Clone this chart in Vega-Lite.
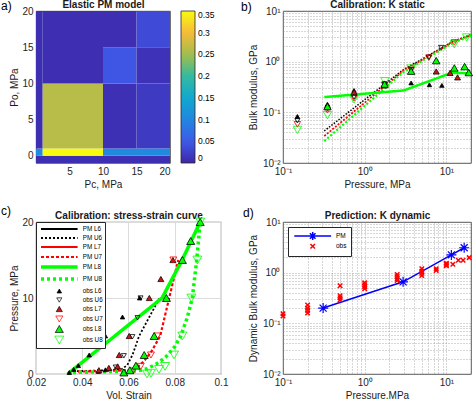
{
  "$schema": "https://vega.github.io/schema/vega-lite/v6.json",
  "padding": {"left": 0, "top": -2, "right": 0, "bottom": 0},
  "background": "white",
  "datasets": {
    "heat": [
      {"x0": 0, "x1": 20, "y0": -1, "y1": 0, "v": 0.008},
      {"x0": 0, "x1": 1, "y0": 0, "y1": 1, "v": 0.105},
      {"x0": 1, "x1": 10, "y0": 0, "y1": 1, "v": 0.35},
      {"x0": 10, "x1": 20, "y0": 0, "y1": 1, "v": 0.105},
      {"x0": 0, "x1": 1, "y0": 1, "y1": 20, "v": 0.008},
      {"x0": 1, "x1": 10, "y0": 1, "y1": 10, "v": 0.262},
      {"x0": 10, "x1": 15, "y0": 1, "y1": 10, "v": 0.01},
      {"x0": 15, "x1": 20, "y0": 1, "y1": 10, "v": 0.02},
      {"x0": 1, "x1": 10, "y0": 10, "y1": 20, "v": 0.008},
      {"x0": 10, "x1": 15, "y0": 10, "y1": 15, "v": 0.045},
      {"x0": 15, "x1": 20, "y0": 10, "y1": 15, "v": 0.012},
      {"x0": 10, "x1": 15, "y0": 15, "y1": 20, "v": 0.008},
      {"x0": 15, "x1": 20, "y0": 15, "y1": 20, "v": 0.035}
    ],
    "bLines": [
      {"series": "PM U6", "P": 0.32, "K": 0.043, "i": 0},
      {"series": "PM U6", "P": 3.0, "K": 0.7, "i": 1},
      {"series": "PM U6", "P": 12, "K": 2.5, "i": 2},
      {"series": "PM U6", "P": 20, "K": 3.4, "i": 3},
      {"series": "PM U7", "P": 0.32, "K": 0.034, "i": 0},
      {"series": "PM U7", "P": 3.0, "K": 0.67, "i": 1},
      {"series": "PM U7", "P": 12, "K": 2.45, "i": 2},
      {"series": "PM U7", "P": 20, "K": 3.35, "i": 3},
      {"series": "PM U8", "P": 0.32, "K": 0.027, "i": 0},
      {"series": "PM U8", "P": 3.0, "K": 0.63, "i": 1},
      {"series": "PM U8", "P": 12, "K": 2.35, "i": 2},
      {"series": "PM U8", "P": 20, "K": 3.25, "i": 3},
      {"series": "PM L8", "P": 0.32, "K": 0.2, "i": 0},
      {"series": "PM L8", "P": 3.0, "K": 0.27, "i": 1},
      {"series": "PM L8", "P": 11.5, "K": 0.6, "i": 2},
      {"series": "PM L8", "P": 20, "K": 0.59, "i": 3}
    ],
    "bObs": [
      {"series": "obs U8", "P": 0.15, "K": 0.045},
      {"series": "obs U8", "P": 0.35, "K": 0.088},
      {"series": "obs U8", "P": 0.74, "K": 0.18},
      {"series": "obs U8", "P": 1.77, "K": 0.41},
      {"series": "obs U8", "P": 3.7, "K": 0.73},
      {"series": "obs U8", "P": 12.5, "K": 2.2},
      {"series": "obs U8", "P": 17.7, "K": 3.0},
      {"series": "obs U7", "P": 0.15, "K": 0.058},
      {"series": "obs U7", "P": 0.35, "K": 0.11},
      {"series": "obs U7", "P": 0.74, "K": 0.19},
      {"series": "obs U7", "P": 1.75, "K": 0.35},
      {"series": "obs U7", "P": 3.7, "K": 0.68},
      {"series": "obs U7", "P": 6.1, "K": 1.2},
      {"series": "obs U7", "P": 12.5, "K": 2.4},
      {"series": "obs U6", "P": 0.15, "K": 0.068},
      {"series": "obs U6", "P": 0.35, "K": 0.12},
      {"series": "obs U6", "P": 0.74, "K": 0.2},
      {"series": "obs U6", "P": 1.75, "K": 0.36},
      {"series": "obs U6", "P": 3.7, "K": 0.7},
      {"series": "obs U6", "P": 6.1, "K": 1.22},
      {"series": "obs U6", "P": 8.6, "K": 1.9},
      {"series": "obs L6", "P": 0.15, "K": 0.083},
      {"series": "obs L6", "P": 0.35, "K": 0.145},
      {"series": "obs L6", "P": 0.74, "K": 0.27},
      {"series": "obs L6", "P": 1.75, "K": 0.34},
      {"series": "obs L6", "P": 3.7, "K": 0.38},
      {"series": "obs L6", "P": 6.2, "K": 0.35},
      {"series": "obs L6", "P": 8.8, "K": 0.34},
      {"series": "obs L7", "P": 0.35, "K": 0.13},
      {"series": "obs L7", "P": 0.74, "K": 0.25},
      {"series": "obs L7", "P": 1.75, "K": 0.34},
      {"series": "obs L7", "P": 7.5, "K": 0.64},
      {"series": "obs L7", "P": 11.1, "K": 0.6},
      {"series": "obs L7", "P": 13.7, "K": 0.49},
      {"series": "obs L8", "P": 0.35, "K": 0.13},
      {"series": "obs L8", "P": 1.75, "K": 0.36},
      {"series": "obs L8", "P": 3.7, "K": 0.65},
      {"series": "obs L8", "P": 7.5, "K": 1.05},
      {"series": "obs L8", "P": 12.5, "K": 0.75},
      {"series": "obs L8", "P": 16.7, "K": 0.8},
      {"series": "obs L8", "P": 18.8, "K": 0.61}
    ],
    "cLines": [
      {"series": "PM U6", "s": 0.036, "p": 0.35, "i": 0},
      {"series": "PM U6", "s": 0.05, "p": 0.5, "i": 1},
      {"series": "PM U6", "s": 0.057, "p": 0.6, "i": 2},
      {"series": "PM U6", "s": 0.0595, "p": 1.2, "i": 3},
      {"series": "PM U6", "s": 0.0617, "p": 2.5, "i": 4},
      {"series": "PM U6", "s": 0.0646, "p": 5, "i": 5},
      {"series": "PM U6", "s": 0.069, "p": 7.5, "i": 6},
      {"series": "PM U6", "s": 0.0735, "p": 10, "i": 7},
      {"series": "PM U7", "s": 0.036, "p": 0.3, "i": 0},
      {"series": "PM U7", "s": 0.05, "p": 0.4, "i": 1},
      {"series": "PM U7", "s": 0.06, "p": 0.5, "i": 2},
      {"series": "PM U7", "s": 0.064, "p": 0.9, "i": 3},
      {"series": "PM U7", "s": 0.067, "p": 1.8, "i": 4},
      {"series": "PM U7", "s": 0.07, "p": 3, "i": 5},
      {"series": "PM U7", "s": 0.0737, "p": 5, "i": 6},
      {"series": "PM U7", "s": 0.0776, "p": 10, "i": 7},
      {"series": "PM U7", "s": 0.0815, "p": 15, "i": 8},
      {"series": "PM U8", "s": 0.036, "p": 0.2, "i": 0},
      {"series": "PM U8", "s": 0.05, "p": 0.3, "i": 1},
      {"series": "PM U8", "s": 0.064, "p": 0.4, "i": 2},
      {"series": "PM U8", "s": 0.068, "p": 0.7, "i": 3},
      {"series": "PM U8", "s": 0.072, "p": 1.3, "i": 4},
      {"series": "PM U8", "s": 0.076, "p": 2.2, "i": 5},
      {"series": "PM U8", "s": 0.08, "p": 3.6, "i": 6},
      {"series": "PM U8", "s": 0.0826, "p": 5, "i": 7},
      {"series": "PM U8", "s": 0.0855, "p": 7.5, "i": 8},
      {"series": "PM U8", "s": 0.0876, "p": 10, "i": 9},
      {"series": "PM U8", "s": 0.0895, "p": 15, "i": 10},
      {"series": "PM U8", "s": 0.091, "p": 20, "i": 11},
      {"series": "PM L8", "s": 0.0337, "p": 0, "i": 0},
      {"series": "PM L8", "s": 0.0745, "p": 10, "i": 1},
      {"series": "PM L8", "s": 0.0832, "p": 15, "i": 2},
      {"series": "PM L8", "s": 0.091, "p": 20, "i": 3}
    ],
    "cObs": [
      {"series": "obs L6", "s": 0.0344, "p": 0.2},
      {"series": "obs L6", "s": 0.0363, "p": 0.6},
      {"series": "obs L6", "s": 0.0383, "p": 1.1},
      {"series": "obs L6", "s": 0.043, "p": 2.5},
      {"series": "obs L6", "s": 0.05, "p": 5},
      {"series": "obs L6", "s": 0.0574, "p": 7.5},
      {"series": "obs L6", "s": 0.0648, "p": 10},
      {"series": "obs L6", "s": 0.047, "p": 0.35},
      {"series": "obs L6", "s": 0.05, "p": 0.55},
      {"series": "obs U6", "s": 0.0545, "p": 0.9},
      {"series": "obs U6", "s": 0.058, "p": 2.4},
      {"series": "obs U6", "s": 0.0617, "p": 4.9},
      {"series": "obs U6", "s": 0.0639, "p": 7.4},
      {"series": "obs U6", "s": 0.0652, "p": 10},
      {"series": "obs L7", "s": 0.0472, "p": 0.5},
      {"series": "obs L7", "s": 0.0515, "p": 0.8},
      {"series": "obs L7", "s": 0.0553, "p": 1.0},
      {"series": "obs L7", "s": 0.056, "p": 2.5},
      {"series": "obs L7", "s": 0.0603, "p": 5},
      {"series": "obs L7", "s": 0.069, "p": 10},
      {"series": "obs L7", "s": 0.074, "p": 12.5},
      {"series": "obs L7", "s": 0.0792, "p": 15},
      {"series": "obs U7", "s": 0.062, "p": 0.4},
      {"series": "obs U7", "s": 0.0653, "p": 1},
      {"series": "obs U7", "s": 0.0697, "p": 2.5},
      {"series": "obs U7", "s": 0.0725, "p": 5},
      {"series": "obs U7", "s": 0.0794, "p": 15},
      {"series": "obs L8", "s": 0.058, "p": 0.2},
      {"series": "obs L8", "s": 0.0606, "p": 0.5},
      {"series": "obs L8", "s": 0.0632, "p": 1.1},
      {"series": "obs L8", "s": 0.0668, "p": 2.5},
      {"series": "obs L8", "s": 0.0711, "p": 5},
      {"series": "obs L8", "s": 0.0764, "p": 10},
      {"series": "obs L8", "s": 0.0833, "p": 15},
      {"series": "obs L8", "s": 0.0869, "p": 17.5},
      {"series": "obs L8", "s": 0.091, "p": 20},
      {"series": "obs U8", "s": 0.068, "p": 0},
      {"series": "obs U8", "s": 0.0697, "p": 0.1},
      {"series": "obs U8", "s": 0.0732, "p": 0.6},
      {"series": "obs U8", "s": 0.0758, "p": 1},
      {"series": "obs U8", "s": 0.0797, "p": 2.5},
      {"series": "obs U8", "s": 0.0833, "p": 5},
      {"series": "obs U8", "s": 0.0872, "p": 10},
      {"series": "obs U8", "s": 0.0898, "p": 15},
      {"series": "obs U8", "s": 0.091, "p": 20}
    ],
    "dPM": [
      {"series": "PM", "P": 0.31, "K": 0.2},
      {"series": "PM", "P": 2.95, "K": 0.66},
      {"series": "PM", "P": 11.5, "K": 2.24},
      {"series": "PM", "P": 16.5, "K": 3.1}
    ],
    "dObs": [
      {"series": "obs", "P": 0.1, "K": 0.14},
      {"series": "obs", "P": 0.1, "K": 0.155},
      {"series": "obs", "P": 0.2, "K": 0.16},
      {"series": "obs", "P": 0.2, "K": 0.18},
      {"series": "obs", "P": 0.2, "K": 0.2},
      {"series": "obs", "P": 0.2, "K": 0.23},
      {"series": "obs", "P": 0.5, "K": 0.29},
      {"series": "obs", "P": 0.5, "K": 0.32},
      {"series": "obs", "P": 0.5, "K": 0.35},
      {"series": "obs", "P": 0.5, "K": 0.55},
      {"series": "obs", "P": 1, "K": 0.48},
      {"series": "obs", "P": 1, "K": 0.53},
      {"series": "obs", "P": 1, "K": 0.58},
      {"series": "obs", "P": 1, "K": 0.63},
      {"series": "obs", "P": 2.5, "K": 0.7},
      {"series": "obs", "P": 2.5, "K": 0.76},
      {"series": "obs", "P": 2.5, "K": 0.84},
      {"series": "obs", "P": 2.5, "K": 0.92},
      {"series": "obs", "P": 5, "K": 0.88},
      {"series": "obs", "P": 5, "K": 0.97},
      {"series": "obs", "P": 5, "K": 1.07},
      {"series": "obs", "P": 5, "K": 1.2},
      {"series": "obs", "P": 7.5, "K": 1.1},
      {"series": "obs", "P": 7.5, "K": 1.2},
      {"series": "obs", "P": 10, "K": 1.37},
      {"series": "obs", "P": 10, "K": 1.45},
      {"series": "obs", "P": 10, "K": 1.54},
      {"series": "obs", "P": 12, "K": 1.47},
      {"series": "obs", "P": 14, "K": 1.76},
      {"series": "obs", "P": 16, "K": 1.76},
      {"series": "obs", "P": 19, "K": 1.98}
    ]
  },
  "concat": [
    {
      "width": 134, "height": 152,
      "title": {"text": "a)", "dx": -35, "offset": -14},
      "data": {"name": "heat"},
      "layer": [
        {
          "mark": {"type": "rect"},
          "encoding": {
            "x": {"field": "x0", "type": "quantitative", "scale": {"domain": [0, 20], "nice": false, "zero": false}, "axis": {"values": [5, 10, 15, 20], "title": "Pc, MPa", "titlePadding": 3}},
            "x2": {"field": "x1"},
            "y": {"field": "y0", "type": "quantitative", "scale": {"domain": [-1, 20], "nice": false, "zero": false}, "axis": {"values": [0, 5, 10, 15, 20], "title": "Po, MPa", "titlePadding": 2}},
            "y2": {"field": "y1"},
            "color": {"field": "v", "type": "quantitative", "title": null,
              "scale": {"domain": [0, 0.05, 0.1, 0.15, 0.2, 0.25, 0.3, 0.35], "range": ["#3e26a8", "#3f5ae9", "#2286e0", "#0fa9cf", "#35b9a0", "#a3be4c", "#f5bb3a", "#f9fb0e"], "interpolate": "rgb"},
              "legend": {"orient": "right", "offset": 11, "direction": "vertical", "gradientLength": 152, "gradientThickness": 14, "values": [0, 0.05, 0.1, 0.15, 0.2, 0.25, 0.3, 0.35], "format": ".2~f", "labelFontSize": 8.5, "labelOverlap": false, "gradientStrokeColor": "#262626", "gradientStrokeWidth": 0.8, "labelOffset": 3, "padding": 0}}
          }
        },
        {
          "mark": {"type": "rule", "opacity": 0},
          "encoding": {"x": {"field": "x0", "type": "quantitative", "axis": {"orient": "top", "labels": false, "grid": false, "title": "Elastic PM model", "titleFontWeight": "bold", "titlePadding": 2}}}
        }
      ],
      "resolve": {"axis": {"x": "independent"}}
    },
    {
      "width": 188, "height": 152,
      "title": {"text": "b)", "dx": -42, "offset": -15},
      "layer": [
        {
          "data": {"name": "bLines"},
          "mark": {"type": "line", "strokeCap": "butt"},
          "encoding": {
            "x": {"field": "P", "type": "quantitative", "scale": {"type": "log", "domain": [0.1, 20], "nice": false},
              "axis": {"values": [0.1, 0.2, 0.3, 0.4, 0.5, 0.6, 0.7, 0.8, 0.9, 1, 2, 3, 4, 5, 6, 7, 8, 9, 10, 20], "labelExpr": "datum.value == 0.1 ? '10⁻¹' : datum.value == 1 ? '10⁰' : datum.value == 10 ? '10¹' : ''", "labelOverlap": false, "labelFlush": false, "grid": true, "gridDash": [1, 2], "gridColor": "#8a8a8a", "gridWidth": 0.7, "title": "Pressure, MPa", "titlePadding": 3}},
            "y": {"field": "K", "type": "quantitative", "scale": {"type": "log", "domain": [0.01, 10], "nice": false},
              "axis": {"values": [0.01, 0.02, 0.03, 0.04, 0.05, 0.06, 0.07, 0.08, 0.09, 0.1, 0.2, 0.3, 0.4, 0.5, 0.6, 0.7, 0.8, 0.9, 1, 2, 3, 4, 5, 6, 7, 8, 9, 10], "labelExpr": "datum.value == 0.01 ? '10⁻²' : datum.value == 0.1 ? '10⁻¹' : datum.value == 1 ? '10⁰' : datum.value == 10 ? '10¹' : ''", "labelOverlap": false, "labelFlush": false, "grid": true, "gridDash": [1, 2], "gridColor": "#8a8a8a", "gridWidth": 0.7, "title": "Bulk modulus, GPa", "titlePadding": 4}},
            "stroke": {"field": "series", "type": "nominal", "title": null, "legend": null,
              "scale": {"domain": ["PM L6", "PM U6", "PM L7", "PM U7", "PM L8", "PM U8", "obs L6", "obs U6", "obs L7", "obs U7", "obs L8", "obs U8"], "range": ["#000000", "#000000", "#ff0000", "#ff0000", "#00ff00", "#00ff00", "#000000", "#000000", "#1a0000", "#ff0000", "#000000", "#00ff00"]}},
            "strokeDash": {"field": "series", "type": "nominal", "title": null, "legend": null,
              "scale": {"domain": ["PM L6", "PM U6", "PM L7", "PM U7", "PM L8", "PM U8", "obs L6", "obs U6", "obs L7", "obs U7", "obs L8", "obs U8"], "range": [[1, 0], [1.5, 1.5], [1, 0], [2, 1.5], [1, 0], [2, 2], [1, 0], [1, 0], [1, 0], [1, 0], [1, 0], [1, 0]]}},
            "strokeWidth": {"field": "series", "type": "nominal", "title": null, "legend": null,
              "scale": {"type": "ordinal", "domain": ["PM L6", "PM U6", "PM L7", "PM U7", "PM L8", "PM U8", "obs L6", "obs U6", "obs L7", "obs U7", "obs L8", "obs U8"], "range": [1.5, 1.5, 1.8, 1.8, 2.5, 2.2, 0.8, 0.8, 0.8, 0.8, 0.8, 0.8]}},
            "order": {"field": "i"}
          }
        },
        {
          "data": {"name": "bObs"},
          "mark": {"type": "point", "opacity": 1, "filled": false, "strokeWidth": 0.8},
          "encoding": {
            "x": {"field": "P", "type": "quantitative", "axis": null},
            "y": {"field": "K", "type": "quantitative"},
            "stroke": {"field": "series", "type": "nominal", "title": null, "legend": null},
            "fill": {"field": "series", "type": "nominal", "title": null, "legend": null,
              "scale": {"domain": ["PM L6", "PM U6", "PM L7", "PM U7", "PM L8", "PM U8", "obs L6", "obs U6", "obs L7", "obs U7", "obs L8", "obs U8"], "range": ["transparent", "transparent", "transparent", "transparent", "transparent", "transparent", "#000000", "transparent", "#c41a1a", "transparent", "#00ff00", "transparent"]}},
            "shape": {"field": "series", "type": "nominal", "title": null, "legend": null,
              "scale": {"domain": ["PM L6", "PM U6", "PM L7", "PM U7", "PM L8", "PM U8", "obs L6", "obs U6", "obs L7", "obs U7", "obs L8", "obs U8"], "range": ["M-9.15,0H9.15", "M-9.15,0H9.15", "M-9.15,0H9.15", "M-9.15,0H9.15", "M-9.15,0H9.15", "M-9.15,0H9.15", "triangle-up", "triangle-down", "triangle-up", "triangle-down", "triangle-up", "triangle-down"]}},
            "size": {"field": "series", "type": "nominal", "title": null, "legend": null,
              "scale": {"type": "ordinal", "domain": ["PM L6", "PM U6", "PM L7", "PM U7", "PM L8", "PM U8", "obs L6", "obs U6", "obs L7", "obs U7", "obs L8", "obs U8"], "range": [16, 16, 16, 16, 16, 16, 20, 25, 36, 42, 56, 72]}}
          }
        },
        {
          "data": {"name": "bObs"},
          "mark": {"type": "rule", "opacity": 0},
          "encoding": {"x": {"field": "P", "type": "quantitative", "axis": {"orient": "top", "labels": false, "grid": false, "title": "Calibration: K static", "titleFontWeight": "bold", "titlePadding": 2}}}
        }
      ],
      "resolve": {"axis": {"x": "independent"}}
    },
    {
      "width": 185, "height": 152,
      "title": {"text": "c)", "dx": -35, "offset": -8},
      "layer": [
        {
          "data": {"name": "cLines"},
          "mark": {"type": "line", "strokeCap": "butt"},
          "encoding": {
            "x": {"field": "s", "type": "quantitative", "scale": {"domain": [0.02, 0.1], "nice": false, "zero": false},
              "axis": {"values": [0.02, 0.04, 0.06, 0.08, 0.1], "format": ".2~f", "grid": true, "gridColor": "#dcdcdc", "labelFlush": false, "title": "Vol. Strain", "titlePadding": 3}},
            "y": {"field": "p", "type": "quantitative", "scale": {"domain": [0, 20], "nice": false},
              "axis": {"values": [0, 5, 10, 15, 20], "grid": true, "gridColor": "#dcdcdc", "labelFlush": false, "title": "Pressure, MPa", "titlePadding": 2}},
            "stroke": {"field": "series", "type": "nominal", "title": null,
              "scale": {"domain": ["PM L6", "PM U6", "PM L7", "PM U7", "PM L8", "PM U8", "obs L6", "obs U6", "obs L7", "obs U7", "obs L8", "obs U8"], "range": ["#000000", "#000000", "#ff0000", "#ff0000", "#00ff00", "#00ff00", "#000000", "#000000", "#1a0000", "#ff0000", "#000000", "#00ff00"]},
              "legend": {"orient": "top-left", "offset": 0, "padding": 2, "strokeColor": "#262626", "fillColor": "white", "labelFontSize": 6.3, "labelColor": "black", "labelOffset": 18.4, "symbolOffset": 16.3, "rowPadding": -4.5, "symbolFillColor": "transparent", "symbolStrokeColor": "black"}},
            "strokeDash": {"field": "series", "type": "nominal", "title": null,
              "scale": {"domain": ["PM L6", "PM U6", "PM L7", "PM U7", "PM L8", "PM U8", "obs L6", "obs U6", "obs L7", "obs U7", "obs L8", "obs U8"], "range": [[1, 0], [2, 2], [1, 0], [3, 2], [1, 0], [3, 3], [1, 0], [1, 0], [1, 0], [1, 0], [1, 0], [1, 0]]},
              "legend": {"orient": "top-left", "offset": 0, "padding": 2, "strokeColor": "#262626", "fillColor": "white", "labelFontSize": 6.3, "labelColor": "black", "labelOffset": 18.4, "symbolOffset": 16.3, "rowPadding": -4.5, "symbolFillColor": "transparent", "symbolStrokeColor": "black"}},
            "strokeWidth": {"field": "series", "type": "nominal", "title": null,
              "scale": {"type": "ordinal", "domain": ["PM L6", "PM U6", "PM L7", "PM U7", "PM L8", "PM U8", "obs L6", "obs U6", "obs L7", "obs U7", "obs L8", "obs U8"], "range": [1.8, 1.8, 2.2, 2.2, 3.5, 3.5, 0.8, 0.8, 0.8, 0.8, 0.8, 0.8]},
              "legend": {"orient": "top-left", "offset": 0, "padding": 2, "strokeColor": "#262626", "fillColor": "white", "labelFontSize": 6.3, "labelColor": "black", "labelOffset": 18.4, "symbolOffset": 16.3, "rowPadding": -4.5, "symbolFillColor": "transparent", "symbolStrokeColor": "black"}},
            "order": {"field": "i"}
          }
        },
        {
          "data": {"name": "cObs"},
          "mark": {"type": "point", "opacity": 1, "filled": false, "strokeWidth": 0.8},
          "encoding": {
            "x": {"field": "s", "type": "quantitative", "axis": null},
            "y": {"field": "p", "type": "quantitative"},
            "stroke": {"field": "series", "type": "nominal", "title": null,
              "legend": {"orient": "top-left", "offset": 0, "padding": 2, "strokeColor": "#262626", "fillColor": "white", "labelFontSize": 6.3, "labelColor": "black", "labelOffset": 18.4, "symbolOffset": 16.3, "rowPadding": -4.5, "symbolFillColor": "transparent", "symbolStrokeColor": "black"}},
            "fill": {"field": "series", "type": "nominal", "title": null,
              "scale": {"domain": ["PM L6", "PM U6", "PM L7", "PM U7", "PM L8", "PM U8", "obs L6", "obs U6", "obs L7", "obs U7", "obs L8", "obs U8"], "range": ["transparent", "transparent", "transparent", "transparent", "transparent", "transparent", "#000000", "transparent", "#c41a1a", "transparent", "#00ff00", "transparent"]},
              "legend": {"orient": "top-left", "offset": 0, "padding": 2, "strokeColor": "#262626", "fillColor": "white", "labelFontSize": 6.3, "labelColor": "black", "labelOffset": 18.4, "symbolOffset": 16.3, "rowPadding": -4.5, "symbolFillColor": "transparent", "symbolStrokeColor": "black"}},
            "shape": {"field": "series", "type": "nominal", "title": null,
              "scale": {"domain": ["PM L6", "PM U6", "PM L7", "PM U7", "PM L8", "PM U8", "obs L6", "obs U6", "obs L7", "obs U7", "obs L8", "obs U8"], "range": ["M-4.575,0H4.575", "M-4.575,0H4.575", "M-4.816,0H4.816", "M-4.816,0H4.816", "M-5.81,0H5.81", "M-5.81,0H5.81", "M0,-0.433L0.5,0.433L-0.5,0.433Z", "M0,0.481L0.556,-0.481L-0.556,-0.481Z", "M0,-0.577L0.667,0.577L-0.667,0.577Z", "M0,0.674L0.778,-0.674L-0.778,-0.674Z", "M0,-0.77L0.889,0.77L-0.889,0.77Z", "M0,0.866L1,-0.866L-1,-0.866Z"]},
              "legend": {"orient": "top-left", "offset": 0, "padding": 2, "strokeColor": "#262626", "fillColor": "white", "labelFontSize": 6.3, "labelColor": "black", "labelOffset": 18.4, "symbolOffset": 16.3, "rowPadding": -4.5, "symbolFillColor": "transparent", "symbolStrokeColor": "black"}},
            "size": {"field": "series", "type": "nominal", "title": null,
              "scale": {"type": "ordinal", "domain": ["PM L6", "PM U6", "PM L7", "PM U7", "PM L8", "PM U8", "obs L6", "obs U6", "obs L7", "obs U7", "obs L8", "obs U8"], "range": [64, 64, 57.76, 57.76, 39.69, 39.69, 81, 81, 81, 81, 81, 81]},
              "legend": {"orient": "top-left", "offset": 0, "padding": 2, "strokeColor": "#262626", "fillColor": "white", "labelFontSize": 6.3, "labelColor": "black", "labelOffset": 18.4, "symbolOffset": 16.3, "rowPadding": -4.5, "symbolFillColor": "transparent", "symbolStrokeColor": "black"}}
          }
        },
        {
          "data": {"name": "cObs"},
          "mark": {"type": "rule", "opacity": 0},
          "encoding": {"x": {"field": "s", "type": "quantitative", "axis": {"orient": "top", "labels": false, "grid": false, "title": "Calibration: stress-strain curve", "titleFontWeight": "bold", "titlePadding": 2}}}
        }
      ],
      "resolve": {"axis": {"x": "independent"}}
    },
    {
      "width": 188, "height": 152,
      "title": {"text": "d)", "dx": -40, "offset": -10},
      "layer": [
        {
          "data": {"name": "dPM"},
          "mark": {"type": "line", "strokeWidth": 1.5},
          "encoding": {
            "x": {"field": "P", "type": "quantitative", "scale": {"type": "log", "domain": [0.1, 20], "nice": false},
              "axis": {"values": [0.1, 0.2, 0.3, 0.4, 0.5, 0.6, 0.7, 0.8, 0.9, 1, 2, 3, 4, 5, 6, 7, 8, 9, 10, 20], "labelExpr": "datum.value == 0.1 ? '10⁻¹' : datum.value == 1 ? '10⁰' : datum.value == 10 ? '10¹' : ''", "labelOverlap": false, "labelFlush": false, "grid": true, "gridDash": [1, 2], "gridColor": "#8a8a8a", "gridWidth": 0.7, "title": "Pressure,MPa", "titlePadding": 3}},
            "y": {"field": "K", "type": "quantitative", "scale": {"type": "log", "domain": [0.01, 10], "nice": false},
              "axis": {"values": [0.01, 0.02, 0.03, 0.04, 0.05, 0.06, 0.07, 0.08, 0.09, 0.1, 0.2, 0.3, 0.4, 0.5, 0.6, 0.7, 0.8, 0.9, 1, 2, 3, 4, 5, 6, 7, 8, 9, 10], "labelExpr": "datum.value == 0.01 ? '10⁻²' : datum.value == 0.1 ? '10⁻¹' : datum.value == 1 ? '10⁰' : datum.value == 10 ? '10¹' : ''", "labelOverlap": false, "labelFlush": false, "grid": true, "gridDash": [1, 2], "gridColor": "#8a8a8a", "gridWidth": 0.7, "title": "Dynamic Bulk modulus, GPa", "titlePadding": 4}},
            "stroke": {"field": "series", "type": "nominal", "title": null,
              "scale": {"domain": ["PM", "obs"], "range": ["#0000ff", "#ff0000"]},
              "legend": {"orient": "top-left", "offset": 5, "padding": 4, "strokeColor": "#262626", "fillColor": "white", "labelFontSize": 6.5, "labelColor": "black", "labelOffset": 18.3, "symbolOffset": 15.7, "rowPadding": -3.25, "symbolFillColor": "transparent", "symbolStrokeColor": "black"}}
          }
        },
        {
          "data": {"name": "dPM"},
          "mark": {"type": "point", "shape": "M0,-1V1M-1,0H1M-0.7,-0.7L0.7,0.7M-0.7,0.7L0.7,-0.7", "size": 100, "stroke": "#0000ff", "strokeWidth": 1.2, "opacity": 1, "filled": false},
          "encoding": {
            "x": {"field": "P", "type": "quantitative", "axis": null},
            "y": {"field": "K", "type": "quantitative"}
          }
        },
        {
          "data": {"name": "dObs"},
          "mark": {"type": "point", "strokeWidth": 1.5, "opacity": 1, "filled": false},
          "encoding": {
            "x": {"field": "P", "type": "quantitative", "axis": null},
            "y": {"field": "K", "type": "quantitative"},
            "stroke": {"field": "series", "type": "nominal", "title": null,
              "legend": {"orient": "top-left", "offset": 5, "padding": 4, "strokeColor": "#262626", "fillColor": "white", "labelFontSize": 6.5, "labelColor": "black", "labelOffset": 18.3, "symbolOffset": 15.7, "rowPadding": -3.25, "symbolFillColor": "transparent", "symbolStrokeColor": "black"}},
            "shape": {"field": "series", "type": "nominal", "title": null,
              "scale": {"domain": ["PM", "obs"], "range": ["M-4.6,0H4.6M0,-1V1M-1,0H1M-0.7,-0.7L0.7,0.7M-0.7,0.7L0.7,-0.7", "M-1,-1L1,1M-1,1L1,-1"]},
              "legend": {"orient": "top-left", "offset": 5, "padding": 4, "strokeColor": "#262626", "fillColor": "white", "labelFontSize": 6.5, "labelColor": "black", "labelOffset": 18.3, "symbolOffset": 15.7, "rowPadding": -3.25, "symbolFillColor": "transparent", "symbolStrokeColor": "black"}},
            "size": {"field": "series", "type": "nominal", "title": null,
              "scale": {"type": "ordinal", "domain": ["PM", "obs"], "range": [64, 20]},
              "legend": {"orient": "top-left", "offset": 5, "padding": 4, "strokeColor": "#262626", "fillColor": "white", "labelFontSize": 6.5, "labelColor": "black", "labelOffset": 18.3, "symbolOffset": 15.7, "rowPadding": -3.25, "symbolFillColor": "transparent", "symbolStrokeColor": "black"}}
          }
        },
        {
          "data": {"name": "dPM"},
          "mark": {"type": "rule", "opacity": 0},
          "encoding": {"x": {"field": "P", "type": "quantitative", "axis": {"orient": "top", "labels": false, "grid": false, "title": "Prediction: K dynamic", "titleFontWeight": "bold", "titlePadding": 2}}}
        }
      ],
      "resolve": {"axis": {"x": "independent"}}
    }
  ],
  "columns": 2,
  "spacing": {"row": 59, "column": 62},
  "bounds": "flush",
  "resolve": {"scale": {"color": "independent", "stroke": "independent", "fill": "independent", "shape": "independent", "size": "independent", "strokeDash": "independent", "strokeWidth": "independent"}},
  "config": {
    "font": "Liberation Sans",
    "view": {"stroke": "#262626", "strokeWidth": 0.8},
    "axis": {"labelFontSize": 10, "titleFontSize": 10, "titleFontWeight": "normal", "labelColor": "#262626", "titleColor": "#1a1a1a", "domain": false, "ticks": false, "grid": false, "labelPadding": 3},
    "title": {"fontSize": 12, "fontWeight": "normal", "anchor": "start", "frame": "group", "color": "black"}
  }
}
